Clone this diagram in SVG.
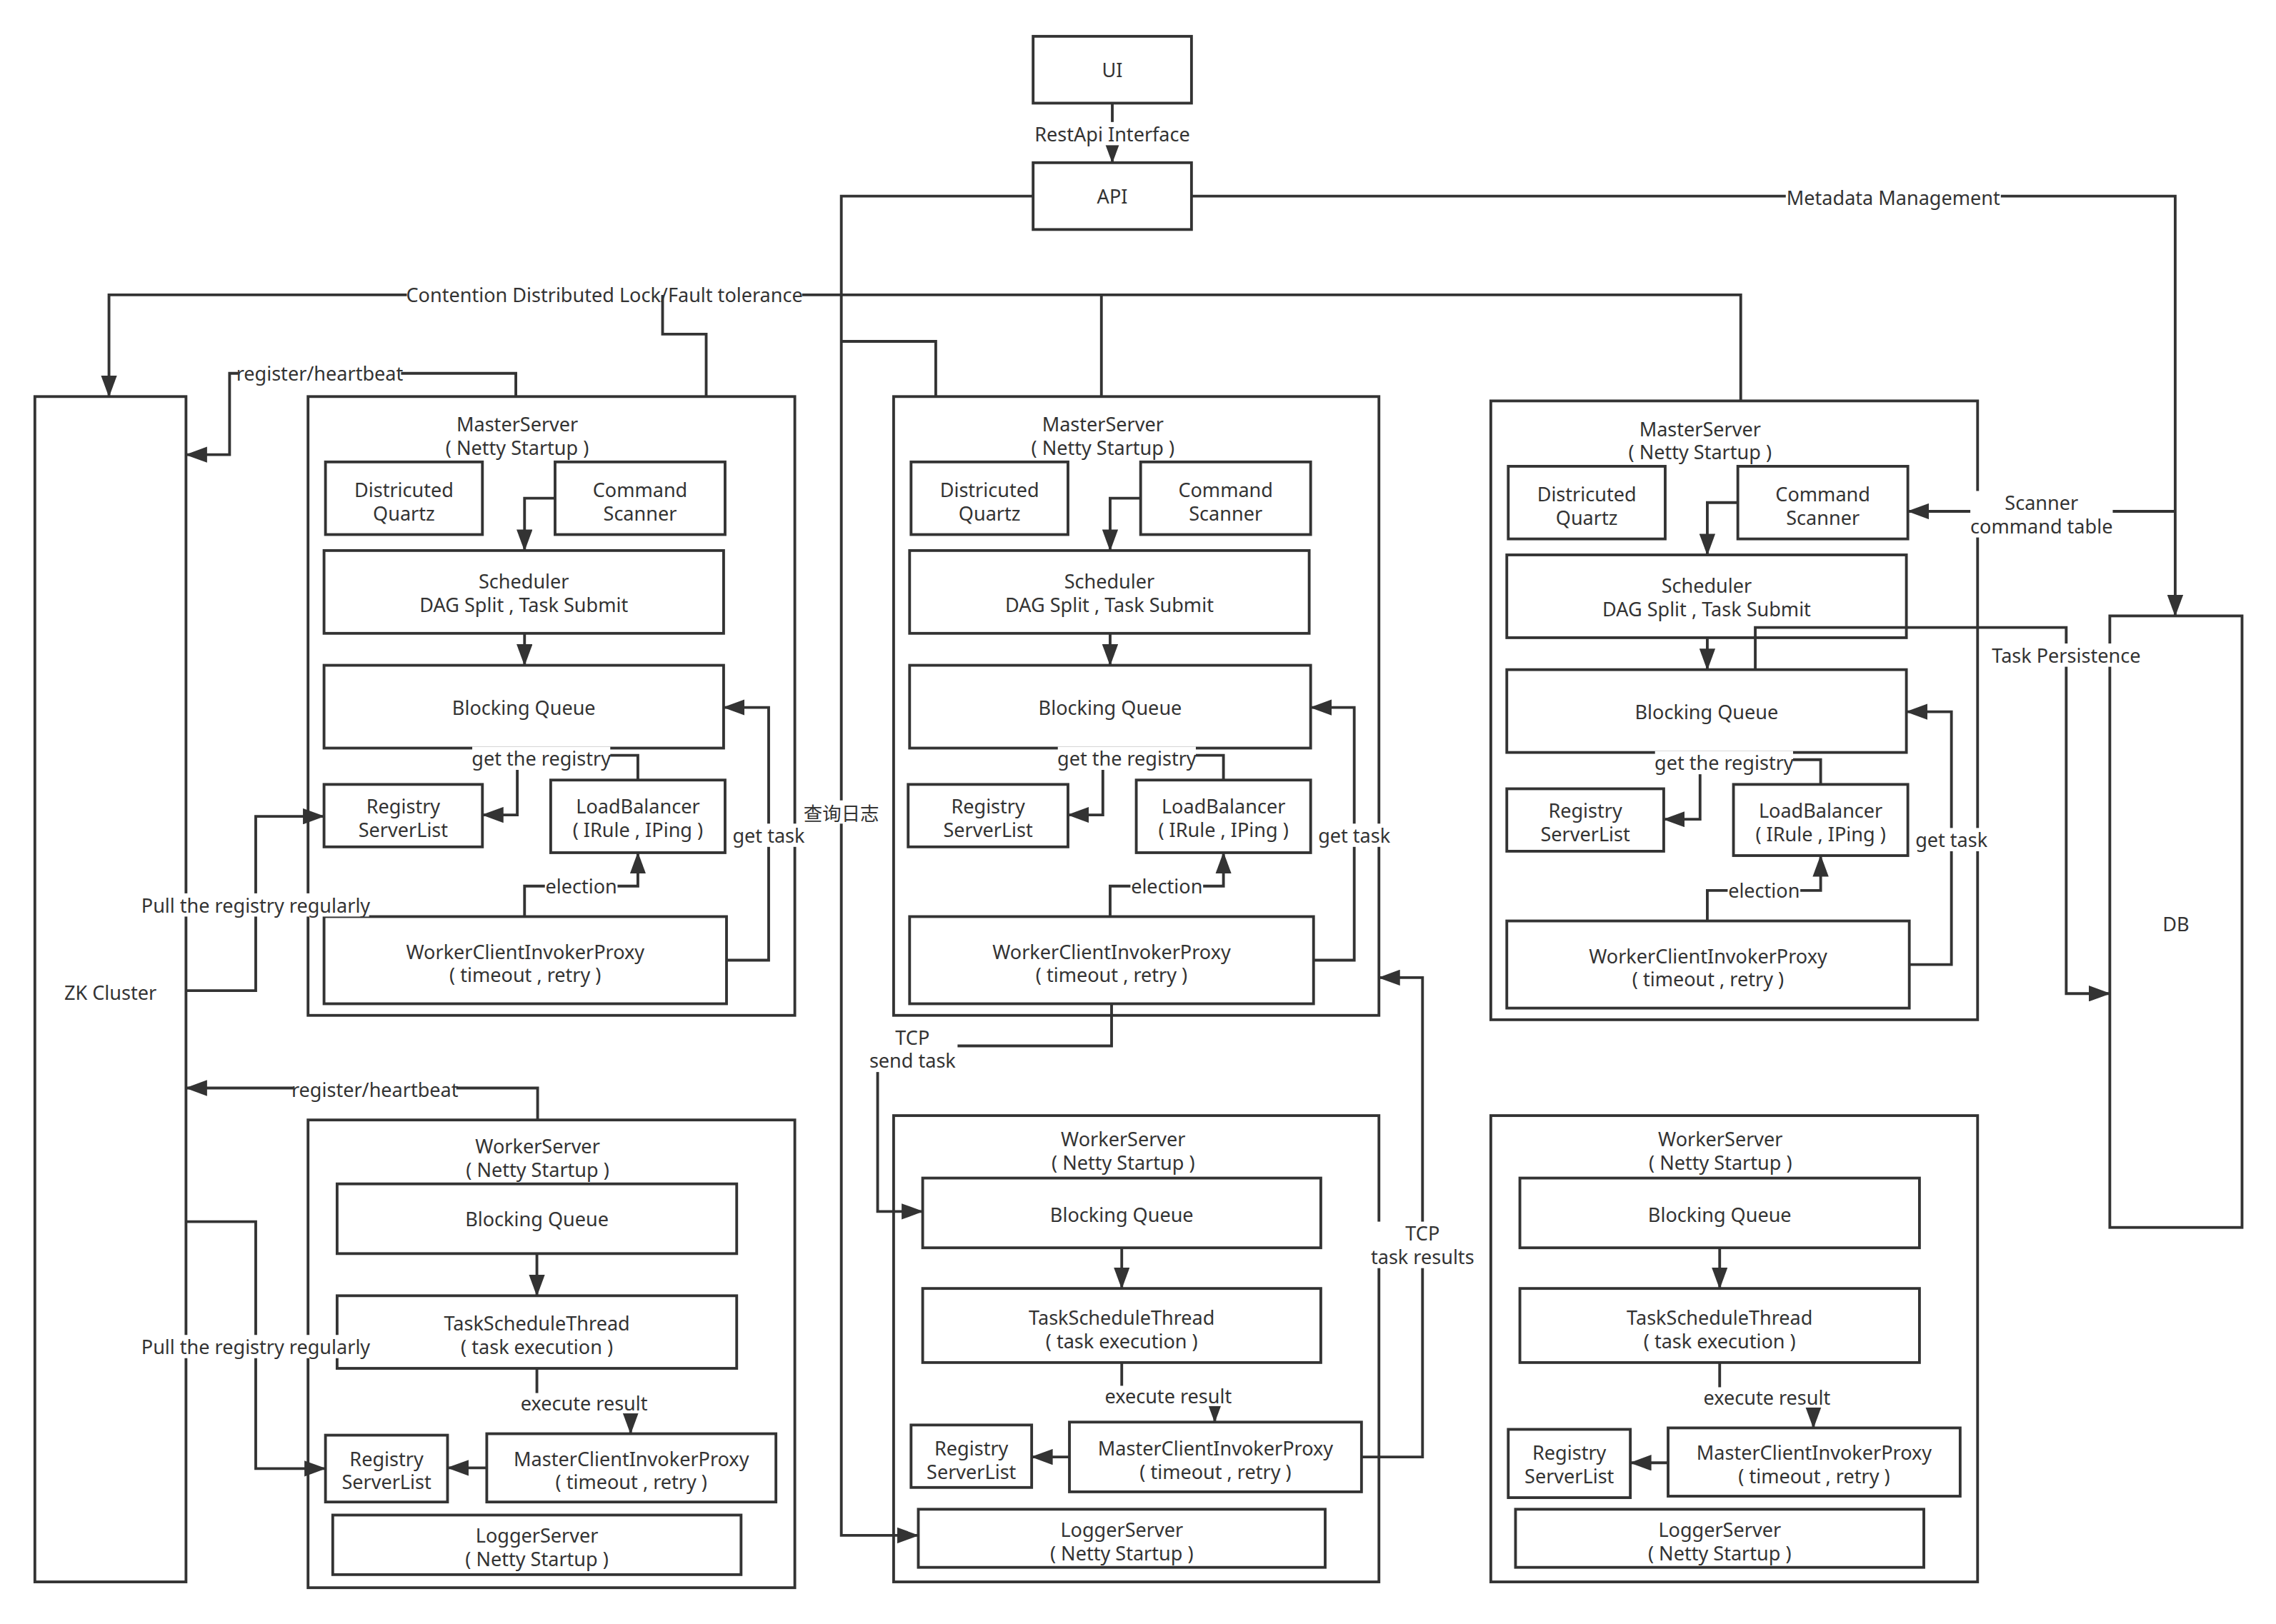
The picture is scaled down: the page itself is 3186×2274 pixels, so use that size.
<svg xmlns="http://www.w3.org/2000/svg" width="3186" height="2274" viewBox="0 0 3186 2274">
<defs>
<style>
.b{fill:#fff;stroke:#333;stroke-width:1.9}
.c{fill:none;stroke:#333;stroke-width:1.9}
.a{marker-end:url(#ah)}
.lb{fill:#fff}
text{font-family:"Noto Sans","Liberation Sans","Noto Sans CJK SC",sans-serif;font-size:13.3px;fill:#333;text-anchor:middle;dominant-baseline:central}
.cjk{font-family:"Noto Sans CJK SC","Noto Sans",sans-serif;font-size:13px}
</style>
<marker id="ah" markerUnits="userSpaceOnUse" viewBox="0 0 15 11" refX="14.5" refY="5.5" markerWidth="15" markerHeight="11" orient="auto"><path d="M0,0L15,5.5L0,11z" fill="#333"/></marker>
</defs>
<rect width="3186" height="2274" fill="#fff"/>
<g transform="scale(2.034)">
<g id="nodes">
<g id="ui"><rect class="b" x="711" y="25" width="109" height="46"/><text x="765.5" y="48">UI</text></g>
<g id="api"><rect class="b" x="711" y="112" width="109" height="46"/><text x="765.5" y="135">API</text></g>
<g id="zk"><rect class="b" x="24" y="273" width="104" height="816"/><text x="76" y="683">ZK Cluster</text></g>
<g id="db"><rect class="b" x="1452" y="424" width="91" height="421"/><text x="1497.5" y="636">DB</text></g>

<g id="master1">
<rect class="b" x="212" y="273" width="335" height="426"/>
<text x="356" y="292">MasterServer</text><text x="356" y="308">( Netty Startup )</text>
<g id="m1-quartz"><rect class="b" x="224" y="318" width="108" height="50"/><text x="278" y="337">Districuted</text><text x="278" y="353">Quartz</text></g>
<g id="m1-scanner"><rect class="b" x="382" y="318" width="117" height="50"/><text x="440.5" y="337">Command</text><text x="440.5" y="353">Scanner</text></g>
<g id="m1-scheduler"><rect class="b" x="223" y="379" width="275" height="57"/><text x="360.5" y="400">Scheduler</text><text x="360.5" y="416">DAG Split , Task Submit</text></g>
<g id="m1-queue"><rect class="b" x="223" y="458" width="275" height="57"/><text x="360.5" y="487">Blocking Queue</text></g>
<g id="m1-registry"><rect class="b" x="223" y="540" width="109" height="43"/><text x="277.5" y="555">Registry</text><text x="277.5" y="571">ServerList</text></g>
<g id="m1-lb"><rect class="b" x="379" y="537" width="120" height="50"/><text x="439" y="555">LoadBalancer</text><text x="439" y="571">( IRule , IPing )</text></g>
<g id="m1-proxy"><rect class="b" x="223" y="631" width="277" height="60"/><text x="361.5" y="655">WorkerClientInvokerProxy</text><text x="361.5" y="671">( timeout , retry )</text></g>
</g>

<g id="master2">
<rect class="b" x="615" y="273" width="334" height="426"/>
<text x="759" y="292">MasterServer</text><text x="759" y="308">( Netty Startup )</text>
<g id="m2-quartz"><rect class="b" x="627" y="318" width="108" height="50"/><text x="681" y="337">Districuted</text><text x="681" y="353">Quartz</text></g>
<g id="m2-scanner"><rect class="b" x="785" y="318" width="117" height="50"/><text x="843.5" y="337">Command</text><text x="843.5" y="353">Scanner</text></g>
<g id="m2-scheduler"><rect class="b" x="626" y="379" width="275" height="57"/><text x="763.5" y="400">Scheduler</text><text x="763.5" y="416">DAG Split , Task Submit</text></g>
<g id="m2-queue"><rect class="b" x="626" y="458" width="276" height="57"/><text x="764" y="487">Blocking Queue</text></g>
<g id="m2-registry"><rect class="b" x="625" y="540" width="110" height="43"/><text x="680" y="555">Registry</text><text x="680" y="571">ServerList</text></g>
<g id="m2-lb"><rect class="b" x="782" y="537" width="120" height="50"/><text x="842" y="555">LoadBalancer</text><text x="842" y="571">( IRule , IPing )</text></g>
<g id="m2-proxy"><rect class="b" x="626" y="631" width="278" height="60"/><text x="765" y="655">WorkerClientInvokerProxy</text><text x="765" y="671">( timeout , retry )</text></g>
</g>

<g id="master3">
<rect class="b" x="1026" y="276" width="335" height="426"/>
<text x="1170" y="295">MasterServer</text><text x="1170" y="311">( Netty Startup )</text>
<g id="m3-quartz"><rect class="b" x="1038" y="321" width="108" height="50"/><text x="1092" y="340">Districuted</text><text x="1092" y="356">Quartz</text></g>
<g id="m3-scanner"><rect class="b" x="1196" y="321" width="117" height="50"/><text x="1254.5" y="340">Command</text><text x="1254.5" y="356">Scanner</text></g>
<g id="m3-scheduler"><rect class="b" x="1037" y="382" width="275" height="57"/><text x="1174.5" y="403">Scheduler</text><text x="1174.5" y="419">DAG Split , Task Submit</text></g>
<g id="m3-queue"><rect class="b" x="1037" y="461" width="275" height="57"/><text x="1174.5" y="490">Blocking Queue</text></g>
<g id="m3-registry"><rect class="b" x="1037" y="543" width="108" height="43"/><text x="1091" y="558">Registry</text><text x="1091" y="574">ServerList</text></g>
<g id="m3-lb"><rect class="b" x="1193" y="540" width="120" height="49"/><text x="1253" y="558">LoadBalancer</text><text x="1253" y="574">( IRule , IPing )</text></g>
<g id="m3-proxy"><rect class="b" x="1037" y="634" width="277" height="60"/><text x="1175.5" y="658">WorkerClientInvokerProxy</text><text x="1175.5" y="674">( timeout , retry )</text></g>
</g>

<g id="worker1">
<rect class="b" x="212" y="771" width="335" height="322"/>
<text x="370" y="789">WorkerServer</text><text x="370" y="805">( Netty Startup )</text>
<g id="w1-queue"><rect class="b" x="232" y="815" width="275" height="48"/><text x="369.5" y="839">Blocking Queue</text></g>
<g id="w1-thread"><rect class="b" x="232" y="892" width="275" height="50"/><text x="369.5" y="911">TaskScheduleThread</text><text x="369.5" y="927">( task execution )</text></g>
<g id="w1-registry"><rect class="b" x="224" y="988" width="84" height="46"/><text x="266" y="1004">Registry</text><text x="266" y="1020">ServerList</text></g>
<g id="w1-proxy"><rect class="b" x="335" y="987" width="199" height="47"/><text x="434.5" y="1004">MasterClientInvokerProxy</text><text x="434.5" y="1020">( timeout , retry )</text></g>
<g id="w1-logger"><rect class="b" x="229" y="1043" width="281" height="41"/><text x="369.5" y="1057">LoggerServer</text><text x="369.5" y="1073">( Netty Startup )</text></g>
</g>

<g id="worker2">
<rect class="b" x="615" y="768" width="334" height="321"/>
<text x="773" y="784">WorkerServer</text><text x="773" y="800">( Netty Startup )</text>
<g id="w2-queue"><rect class="b" x="635" y="811" width="274" height="48"/><text x="772" y="836">Blocking Queue</text></g>
<g id="w2-thread"><rect class="b" x="635" y="887" width="274" height="51"/><text x="772" y="907">TaskScheduleThread</text><text x="772" y="923">( task execution )</text></g>
<g id="w2-registry"><rect class="b" x="627" y="981" width="83" height="43"/><text x="668.5" y="997">Registry</text><text x="668.5" y="1013">ServerList</text></g>
<g id="w2-proxy"><rect class="b" x="736" y="979" width="201" height="48"/><text x="836.5" y="997">MasterClientInvokerProxy</text><text x="836.5" y="1013">( timeout , retry )</text></g>
<g id="w2-logger"><rect class="b" x="632" y="1039" width="280" height="40"/><text x="772" y="1053">LoggerServer</text><text x="772" y="1069">( Netty Startup )</text></g>
</g>

<g id="worker3">
<rect class="b" x="1026" y="768" width="335" height="321"/>
<text x="1184" y="784">WorkerServer</text><text x="1184" y="800">( Netty Startup )</text>
<g id="w3-queue"><rect class="b" x="1046" y="811" width="275" height="48"/><text x="1183.5" y="836">Blocking Queue</text></g>
<g id="w3-thread"><rect class="b" x="1046" y="887" width="275" height="51"/><text x="1183.5" y="907">TaskScheduleThread</text><text x="1183.5" y="923">( task execution )</text></g>
<g id="w3-registry"><rect class="b" x="1038" y="984" width="84" height="47"/><text x="1080" y="1000">Registry</text><text x="1080" y="1016">ServerList</text></g>
<g id="w3-proxy"><rect class="b" x="1148" y="983" width="201" height="47"/><text x="1248.5" y="1000">MasterClientInvokerProxy</text><text x="1248.5" y="1016">( timeout , retry )</text></g>
<g id="w3-logger"><rect class="b" x="1043" y="1039" width="281" height="40"/><text x="1183.5" y="1053">LoggerServer</text><text x="1183.5" y="1069">( Netty Startup )</text></g>
</g>
</g>

<g id="connectors">
<path class="c a" d="M765.5,71V112"/>
<path class="c a" d="M711,135H579V1057H632"/>
<path class="c" d="M579,235H644V273"/>
<path class="c a" d="M820,135H1497V424"/>
<path class="c a" d="M1497,352H1313"/>
<path class="c a" d="M1198,276V203H75V273"/>
<path class="c" d="M758,203V273"/>
<path class="c a" d="M355,273V257H158V313H128"/>
<path class="c a" d="M128,682H176V562H223"/>
<path class="c a" d="M370,771V749H128"/>
<path class="c a" d="M128,841H176V1011H224"/>

<path class="c a" d="M382,343H361V379"/>
<path class="c a" d="M361,436V458"/>
<path class="c a" d="M439,537V520H356V561H332"/>
<path class="c a" d="M361,631V610H439V587"/>
<path class="c a" d="M500,661H529V487H498"/>

<path class="c a" d="M785,343H764V379"/>
<path class="c a" d="M764,436V458"/>
<path class="c a" d="M842,537V520H759V561H735"/>
<path class="c a" d="M764,631V610H842V587"/>
<path class="c a" d="M904,661H932V487H902"/>
<path class="c a" d="M765,691V720H604V834H635"/>

<path class="c a" d="M1196,346H1175V382"/>
<path class="c a" d="M1175,439V461"/>
<path class="c a" d="M1253,540V523H1170V564H1145"/>
<path class="c a" d="M1175,634V613H1253V589"/>
<path class="c a" d="M1314,664H1343V490H1312"/>
<path class="c a" d="M1208,461V432H1422V684H1452"/>

<path class="c a" d="M369.5,863V892"/>
<path class="c a" d="M369.5,942V966H434V987"/>
<path class="c a" d="M335,1010.5H308"/>
<path class="c a" d="M772,859V887"/>
<path class="c a" d="M772,938V961H836V979"/>
<path class="c a" d="M736,1003H710"/>
<path class="c a" d="M937,1003H979V673H949"/>
<path class="c a" d="M1183.5,859V887"/>
<path class="c a" d="M1183.5,938V962H1248V983"/>
<path class="c a" d="M1148,1007H1122"/>

<g id="labels">
<rect class="lb" x="711.5" y="84" width="108" height="16"/><text x="765.5" y="92">RestApi Interface</text>
<rect class="lb" x="551" y="551" width="56" height="16"/><text class="cjk" x="579" y="559">查询日志</text>
<rect class="lb" x="1229" y="128" width="148" height="16"/><text x="1303" y="136">Metadata Management</text>
<rect class="lb" x="1356" y="338" width="98" height="32"/><text x="1405" y="346">Scanner</text><text x="1405" y="362">command table</text>
<rect class="lb" x="280" y="195" width="272" height="16"/><text x="416" y="203">Contention Distributed Lock/Fault tolerance</text>
<rect class="lb" x="164" y="249" width="112" height="16"/><text x="220" y="257">register/heartbeat</text>
<rect class="lb" x="98" y="615" width="156" height="16"/><text x="176" y="623">Pull the registry regularly</text>
<rect class="lb" x="202" y="742" width="112" height="16"/><text x="258" y="750">register/heartbeat</text>
<rect class="lb" x="98" y="919" width="156" height="16"/><text x="176" y="927">Pull the registry regularly</text>
<rect class="lb" x="325" y="514" width="95" height="16"/><text x="372.5" y="522">get the registry</text>
<rect class="lb" x="375" y="602" width="50" height="16"/><text x="400" y="610">election</text>
<rect class="lb" x="503.5" y="567" width="51" height="16"/><text x="529" y="575">get task</text>
<rect class="lb" x="728" y="514" width="95" height="16"/><text x="775.5" y="522">get the registry</text>
<rect class="lb" x="778" y="602" width="50" height="16"/><text x="803" y="610">election</text>
<rect class="lb" x="906.5" y="567" width="51" height="16"/><text x="932" y="575">get task</text>
<rect class="lb" x="1139" y="517" width="95" height="16"/><text x="1186.5" y="525">get the registry</text>
<rect class="lb" x="1189" y="605" width="50" height="16"/><text x="1214" y="613">election</text>
<rect class="lb" x="1317.5" y="570" width="51" height="16"/><text x="1343" y="578">get task</text>
<rect class="lb" x="1367.5" y="443" width="109" height="16"/><text x="1422" y="451">Task Persistence</text>
<rect class="lb" x="597" y="706" width="62" height="32"/><text x="628" y="714">TCP</text><text x="628" y="730">send task</text>
<rect class="lb" x="942.5" y="841" width="73" height="32"/><text x="979" y="849">TCP</text><text x="979" y="865">task results</text>
<rect class="lb" x="357.5" y="959" width="89" height="14"/><text x="402" y="966">execute result</text>
<rect class="lb" x="759.5" y="954" width="89" height="14"/><text x="804" y="961">execute result</text>
<rect class="lb" x="1171.5" y="955" width="89" height="14"/><text x="1216" y="962">execute result</text>
</g>
<path class="c" d="M456,203V230H486V273"/>
</g>
</g>
</svg>
